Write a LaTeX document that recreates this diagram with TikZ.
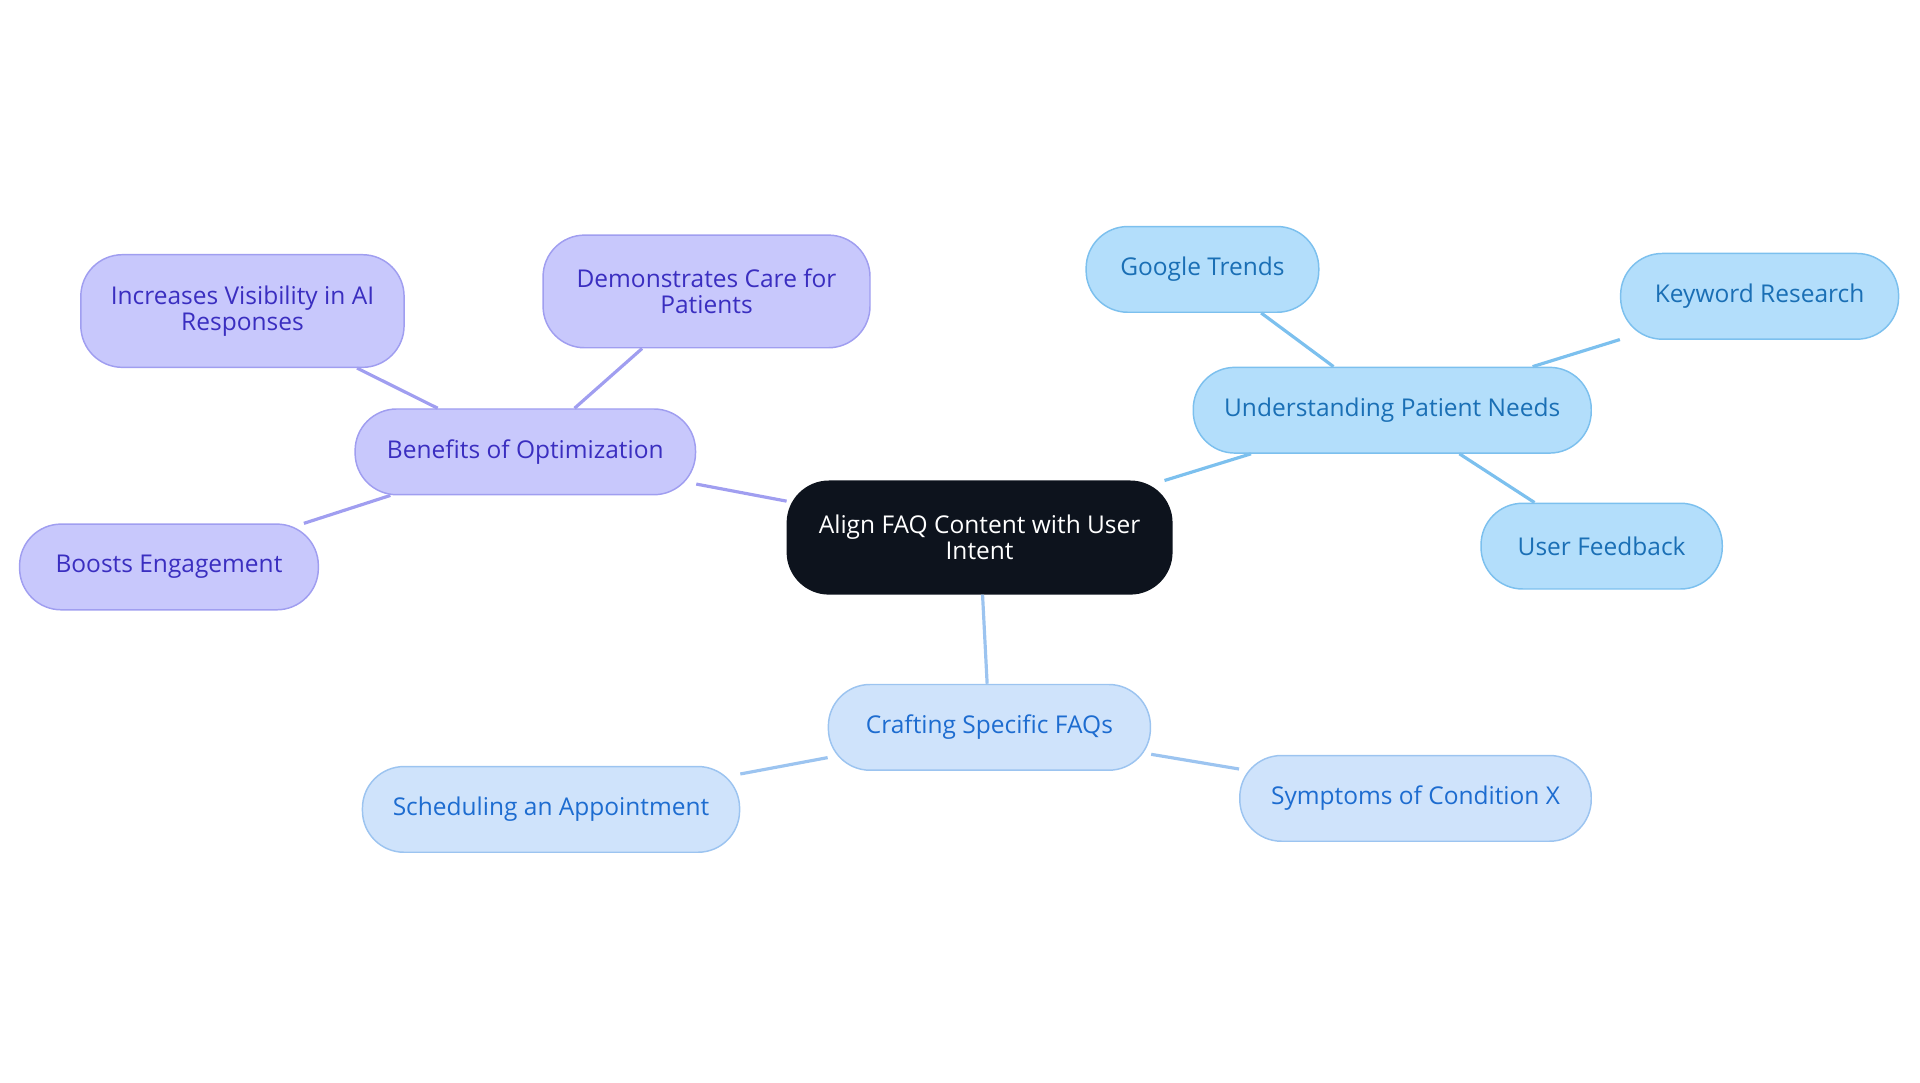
\documentclass[tikz,border=0pt]{standalone}
\usepackage{fontspec}
\setmainfont{Open Sans}
\definecolor{cdark}{HTML}{0D131D}
\definecolor{pfill}{HTML}{C8C8FC}\definecolor{pline}{HTML}{A09EF0}\definecolor{ptext}{HTML}{3A2EC0}
\definecolor{bfill}{HTML}{B3DEFB}\definecolor{bline}{HTML}{7CC0EE}\definecolor{btext}{HTML}{1A6FB5}
\definecolor{lfill}{HTML}{CFE3FB}\definecolor{lline}{HTML}{9CC4F0}\definecolor{ltext}{HTML}{1D6CD0}
\begin{document}
\begin{tikzpicture}[x=0.5pt,y=-0.5pt,
 box/.style={rounded corners=17pt,line width=0.6pt,align=center,font=\fontsize{10}{10.5}\selectfont,inner sep=0pt},
 pbox/.style={box,fill=pfill,draw=pline,text=ptext},
 bbox/.style={box,fill=bfill,draw=bline,text=btext},
 lbox/.style={box,fill=lfill,draw=lline,text=ltext},
 sz/.style 2 args={minimum width=#1*0.5pt,minimum height=#2*0.5pt},
 pe/.style={pline,line width=1.3pt},
 be/.style={bline,line width=1.3pt},
 le/.style={lline,line width=1.3pt}]
\useasboundingbox (0,0) rectangle (1568,884);
\node[box,fill=cdark,draw=cdark,text=white,sz={314}{92}] (c) at (800,439) {Align FAQ Content with User\\Intent};
\node[pbox,sz={278}{70}] (b) at (429,369) {Benefits of Optimization};
\node[pbox,sz={264}{92}] (b1) at (198,254) {Increases Visibility in AI\\Responses};
\node[pbox,sz={267}{92}] (b2) at (577,238) {Demonstrates Care for\\Patients};
\node[pbox,sz={244}{70}] (b3) at (138,463) {Boosts Engagement};
\node[bbox,sz={325}{70}] (u) at (1137,335) {Understanding Patient Needs};
\node[bbox,sz={190}{70}] (u1) at (982,220) {Google Trends};
\node[bbox,sz={227}{70}] (u2) at (1437,242) {Keyword Research};
\node[bbox,sz={197}{70}] (u3) at (1308,446) {User Feedback};
\node[lbox,sz={263}{70}] (f) at (808,594) {Crafting Specific FAQs};
\node[lbox,sz={308}{70}] (f1) at (450,661) {Scheduling an Appointment};
\node[lbox,sz={287}{70}] (f2) at (1156,652) {Symptoms of Condition X};
\begin{scope}[on background layer/.style={}]
\end{scope}
\draw[pe] (c) -- (b); \draw[pe] (b) -- (b1); \draw[pe] (b) -- (b2); \draw[pe] (b) -- (b3);
\draw[be] (c) -- (u); \draw[be] (u) -- (u1); \draw[be] (u) -- (u2); \draw[be] (u) -- (u3);
\draw[le] (c) -- (f); \draw[le] (f) -- (f1); \draw[le] (f) -- (f2);
\end{tikzpicture}
\end{document}
